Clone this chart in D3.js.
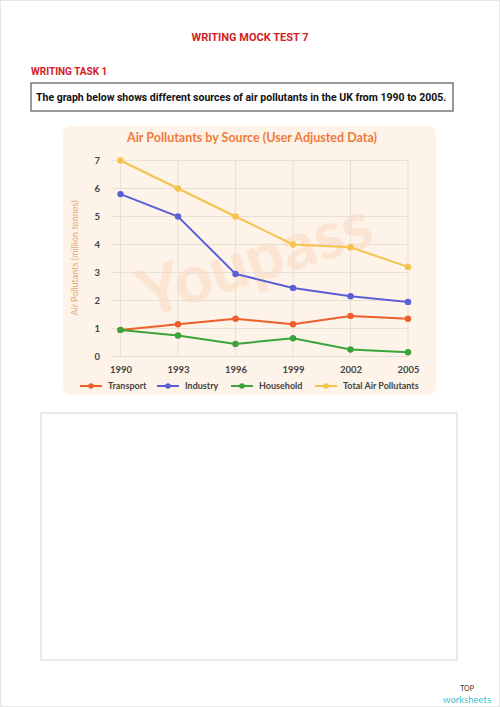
<!DOCTYPE html>
<html><head><meta charset="utf-8">
<script src="https://cdn.jsdelivr.net/npm/d3@7"></script>
<style>
html,body{margin:0;padding:0;background:#fff;}
svg{display:block;}
</style></head>
<body>
<svg id="page" width="500" height="707"></svg>
<script>
const years = ["1990","1993","1996","1999","2002","2005"];
const transport = [0.95, 1.15, 1.35, 1.15, 1.45, 1.35];
const industry = [5.8, 5.0, 2.95, 2.45, 2.15, 1.95];
const household = [0.95, 0.75, 0.45, 0.65, 0.25, 0.15];
const totalAir = [7.0, 6.0, 5.0, 4.0, 3.9, 3.2];
const yTicks = [0,1,2,3,4,5,6,7];
const seriesNames = ["Transport","Industry","Household","Total Air Pollutants"];
const seriesColors = ["#ee5f2b","#5b5fd6","#3aa43a","#f6c24c"];
const seriesData = [transport, industry, household, totalAir];

const svg = d3.select("#page");

// page frame
svg.append("rect").attr("x",0.5).attr("y",0.5).attr("width",499).attr("height",706)
  .attr("fill","none").attr("stroke","#e6e6e6");

// headings
svg.append("text").attr("x",250).attr("y",41).attr("text-anchor","middle")
  .attr("font-family","Roboto").attr("font-weight","bold").attr("font-size",11)
  .attr("fill","#d32027").text("WRITING MOCK TEST 7");
svg.append("text").attr("x",31).attr("y",75)
  .attr("font-family","Roboto").attr("font-weight","bold").attr("font-size",10)
  .attr("fill","#d32027").text("WRITING TASK 1");
svg.append("rect").attr("x",31).attr("y",83).attr("width",422).attr("height",28)
  .attr("fill","#fff").attr("stroke","#555").attr("stroke-width",1.2);
svg.append("text").attr("x",36).attr("y",100.5)
  .attr("font-family","Roboto").attr("font-weight","bold").attr("font-size",10.5)
  .attr("fill","#111").text("The graph below shows different sources of air pollutants in the UK from 1990 to 2005.");

// chart panel
svg.append("rect").attr("x",63).attr("y",126).attr("width",373).attr("height",269)
  .attr("rx",8).attr("fill","#fdf3e9");

svg.append("text").attr("x",252).attr("y",142).attr("text-anchor","middle")
  .attr("font-family","Lato").attr("font-weight","bold").attr("font-size",12.5)
  .attr("fill","#f07a3c").text("Air Pollutants by Source (User Adjusted Data)");

const x = d3.scalePoint().domain(years).range([120.5,408]);
const y = d3.scaleLinear().domain([0,7]).range([356.5,160.5]);
const gridLeft = 112, gridRight = 408;

// watermark
svg.append("text").attr("x",255).attr("y",282).attr("text-anchor","middle")
  .attr("transform","rotate(-18,255,260)")
  .attr("font-family","Lato").attr("font-weight","900").attr("font-size",66)
  .attr("fill","#f7b27a").attr("opacity",0.2).text("Youpass");

// grid
const g = svg.append("g");
g.selectAll("line.h").data(yTicks).join("line")
  .attr("x1",gridLeft).attr("x2",gridRight)
  .attr("y1",d=>y(d)).attr("y2",d=>y(d))
  .attr("stroke","#e8dfd6").attr("stroke-width",1);
g.selectAll("line.v").data(years).join("line")
  .attr("x1",d=>x(d)).attr("x2",d=>x(d))
  .attr("y1",y(7)).attr("y2",y(0))
  .attr("stroke","#e8dfd6").attr("stroke-width",1);

// axes (tick labels only)
const yAxis = d3.axisLeft(y).tickValues(yTicks).tickFormat(d3.format("d")).tickSize(0).tickPadding(0);
const ya = svg.append("g").attr("transform",`translate(100,0)`).call(yAxis);
ya.select(".domain").remove();
ya.selectAll("text").attr("font-family","Lato").attr("font-weight","bold").attr("font-size",9.5).attr("fill","#444");

const xAxis = d3.axisBottom(x).tickSize(0).tickPadding(0);
const xa = svg.append("g").attr("transform",`translate(0,366)`).call(xAxis);
xa.select(".domain").remove();
xa.selectAll("text").attr("font-family","Lato").attr("font-weight","bold").attr("font-size",9.5).attr("fill","#444");

svg.append("text").attr("transform","translate(78,258) rotate(-90)").attr("text-anchor","middle")
  .attr("font-family","Lato").attr("font-size",9).attr("fill","#eaa775")
  .text("Air Pollutants (million tonnes)");

// lines
const line = d3.line().x((d,i)=>x(years[i])).y(d=>y(d));
const drawOrder = [3,1,0,2];
drawOrder.forEach(si=>{
  const s = svg.append("g");
  s.append("path").datum(seriesData[si]).attr("d",line)
    .attr("fill","none").attr("stroke",seriesColors[si]).attr("stroke-width",2);
  s.selectAll("circle").data(seriesData[si]).join("circle")
    .attr("cx",(d,i)=>x(years[i])).attr("cy",d=>y(d)).attr("r",3.2)
    .attr("fill",seriesColors[si]);
});

// legend
const legendX = [80,157,231,315];
seriesNames.forEach((n,i)=>{
  const lg = svg.append("g").attr("transform",`translate(${legendX[i]},386)`);
  lg.append("line").attr("x1",0).attr("x2",22).attr("y1",0).attr("y2",0)
    .attr("stroke",seriesColors[i]).attr("stroke-width",2);
  lg.append("circle").attr("cx",11).attr("cy",0).attr("r",2.8).attr("fill",seriesColors[i]);
  lg.append("text").attr("x",28).attr("y",3.2).attr("font-family","Lato").attr("font-weight","bold")
    .attr("font-size",9).attr("fill","#444").text(n);
});

// answer box
svg.append("rect").attr("x",41).attr("y",413).attr("width",416).attr("height",247)
  .attr("fill","#fff").attr("stroke","#d6d6d6").attr("stroke-width",1);

// logo
svg.append("text").attr("x",467).attr("y",691).attr("text-anchor","middle")
  .attr("font-family","Lato").attr("font-size",7).attr("fill","#333").text("TOP");
svg.append("text").attr("x",467).attr("y",703).attr("text-anchor","middle")
  .attr("font-family","Lato").attr("font-size",9.5).attr("fill","#3cc4c9").text("worksheets");
</script>
</body></html>
